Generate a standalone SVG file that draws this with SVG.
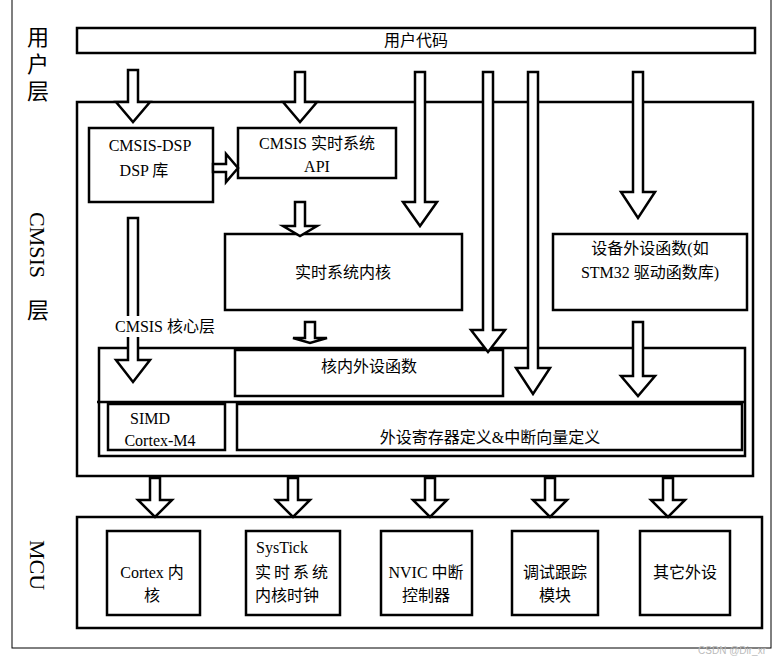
<svg xmlns="http://www.w3.org/2000/svg" width="783" height="663" viewBox="0 0 783 663">
<style>
.b{fill:#fff;stroke:#000;stroke-width:2.5}
.a{fill:#fff;stroke:#000;stroke-width:2.5;stroke-linejoin:miter}
text{font-family:"Liberation Serif","Noto Sans CJK SC",serif;font-size:16px;fill:#000;text-anchor:middle}
.big{font-size:22px}
.wm{font-family:"Liberation Sans",sans-serif;font-size:10px;fill:#bbb}
</style>
<rect width="783" height="663" fill="#fff"/>
<rect x="12" y="-2" width="759" height="650" fill="none" stroke="#000" stroke-width="1"/>
<text class="big" x="38" y="45">用</text>
<text class="big" x="38" y="72">户</text>
<text class="big" x="38" y="99">层</text>
<text class="big" transform="translate(30 245) rotate(90)">CMSIS</text>
<text class="big" x="38" y="318">层</text>
<text class="big" transform="translate(30 565) rotate(90)">MCU</text>
<g id="user"><rect class="b" x="77" y="28" width="678" height="25" stroke-width="1.5"/><text x="416" y="46">用户代码</text></g>
<g id="cmsis"><rect class="b" x="77" y="102" width="676" height="374"/></g>
<g id="dsp"><rect class="b" x="89" y="128" width="124" height="74"/><text x="150" y="151">CMSIS-DSP</text><text x="144" y="176">DSP 库</text></g>
<g id="api"><rect class="b" x="238" y="128" width="158" height="50"/><text x="317" y="149">CMSIS 实时系统</text><text x="317" y="172">API</text></g>
<g id="kernel"><rect class="b" x="225" y="234" width="237" height="76"/><text x="343" y="278">实时系统内核</text></g>
<g id="dev"><rect class="b" x="553" y="234" width="194" height="76"/><text x="650" y="254">设备外设函数(如</text><text x="650" y="278">STM32 驱动函数库)</text></g>
<g id="core"><rect class="b" x="99" y="348" width="646" height="108" stroke-width="3"/>
<line x1="97" y1="402" x2="745" y2="402" stroke="#000" stroke-width="2.5"/>
<rect class="b" x="235" y="350" width="268" height="46"/><text x="369" y="372">核内外设函数</text>
<rect class="b" x="108" y="404" width="117" height="46"/><text x="150" y="424">SIMD</text><text x="160" y="446" font-size="13">Cortex-M4</text>
<rect class="b" x="237" y="404" width="505" height="46"/><text x="490" y="443">外设寄存器定义&amp;中断向量定义</text></g>
<g id="mcu"><rect class="b" x="77" y="517" width="685" height="111"/>
<rect class="b" x="107" y="531" width="93" height="84"/><text x="152" y="578">Cortex 内</text><text x="152" y="601">核</text>
<rect class="b" x="246" y="531" width="94" height="84"/><text x="282" y="553">SysTick</text><text x="293" y="578" letter-spacing="3">实时系统</text><text x="287" y="601">内核时钟</text>
<rect class="b" x="381" y="531" width="91" height="84"/><text x="426" y="578">NVIC 中断</text><text x="426" y="601">控制器</text>
<rect class="b" x="512" y="531" width="86" height="84"/><text x="555" y="578">调试跟踪</text><text x="555" y="601">模块</text>
<rect class="b" x="640" y="531" width="90" height="84"/><text x="685" y="578">其它外设</text></g>
<g id="connectors">
<polygon class="a" points="128,70 138,70 138,102 150,102 133,122 116,102 128,102"/>
<polygon class="a" points="295,72 305,72 305,102 317,102 300,122 283,102 295,102"/>
<polygon class="a" points="415,72 425,72 425,202 437,202 420,226 403,202 415,202"/>
<polygon class="a" points="483,72 493,72 493,330 505,330 488,352 471,330 483,330"/>
<polygon class="a" points="528,72 538,72 538,368 550,368 533,394 516,368 528,368"/>
<polygon class="a" points="633,72 643,72 643,192 655,192 638,218 621,192 633,192"/>
<polygon class="a" points="213,164 226,164 226,154 238,168 226,182 226,172 213,172"/>
<polygon class="a" points="295,202 305,202 305,226 317,226 300,236 283,226 295,226"/>
<polyline points="128,316 128,218 138,218 138,316" fill="#fff" stroke="#000" stroke-width="2.5"/>
<polyline points="128,337 128,360 116,360 133,382 150,360 138,360 138,337" fill="#fff" stroke="#000" stroke-width="2.5"/>
<polygon class="a" points="305,322 315,322 315,338 327,338 310,343 293,338 305,338"/>
<polygon class="a" points="633,322 643,322 643,376 655,376 638,396 621,376 633,376"/>
<polygon class="a" points="150,478 160,478 160,500 172,500 155,517 138,500 150,500"/>
<polygon class="a" points="288,478 298,478 298,500 310,500 293,517 276,500 288,500"/>
<polygon class="a" points="425,478 435,478 435,500 447,500 430,517 413,500 425,500"/>
<polygon class="a" points="545,478 555,478 555,500 567,500 550,517 533,500 545,500"/>
<polygon class="a" points="663,478 673,478 673,500 685,500 668,517 651,500 663,500"/>
</g>
<text x="165" y="332">CMSIS 核心层</text>
<text class="wm" x="732" y="654">CSDN @Dir_xr</text>
</svg>
